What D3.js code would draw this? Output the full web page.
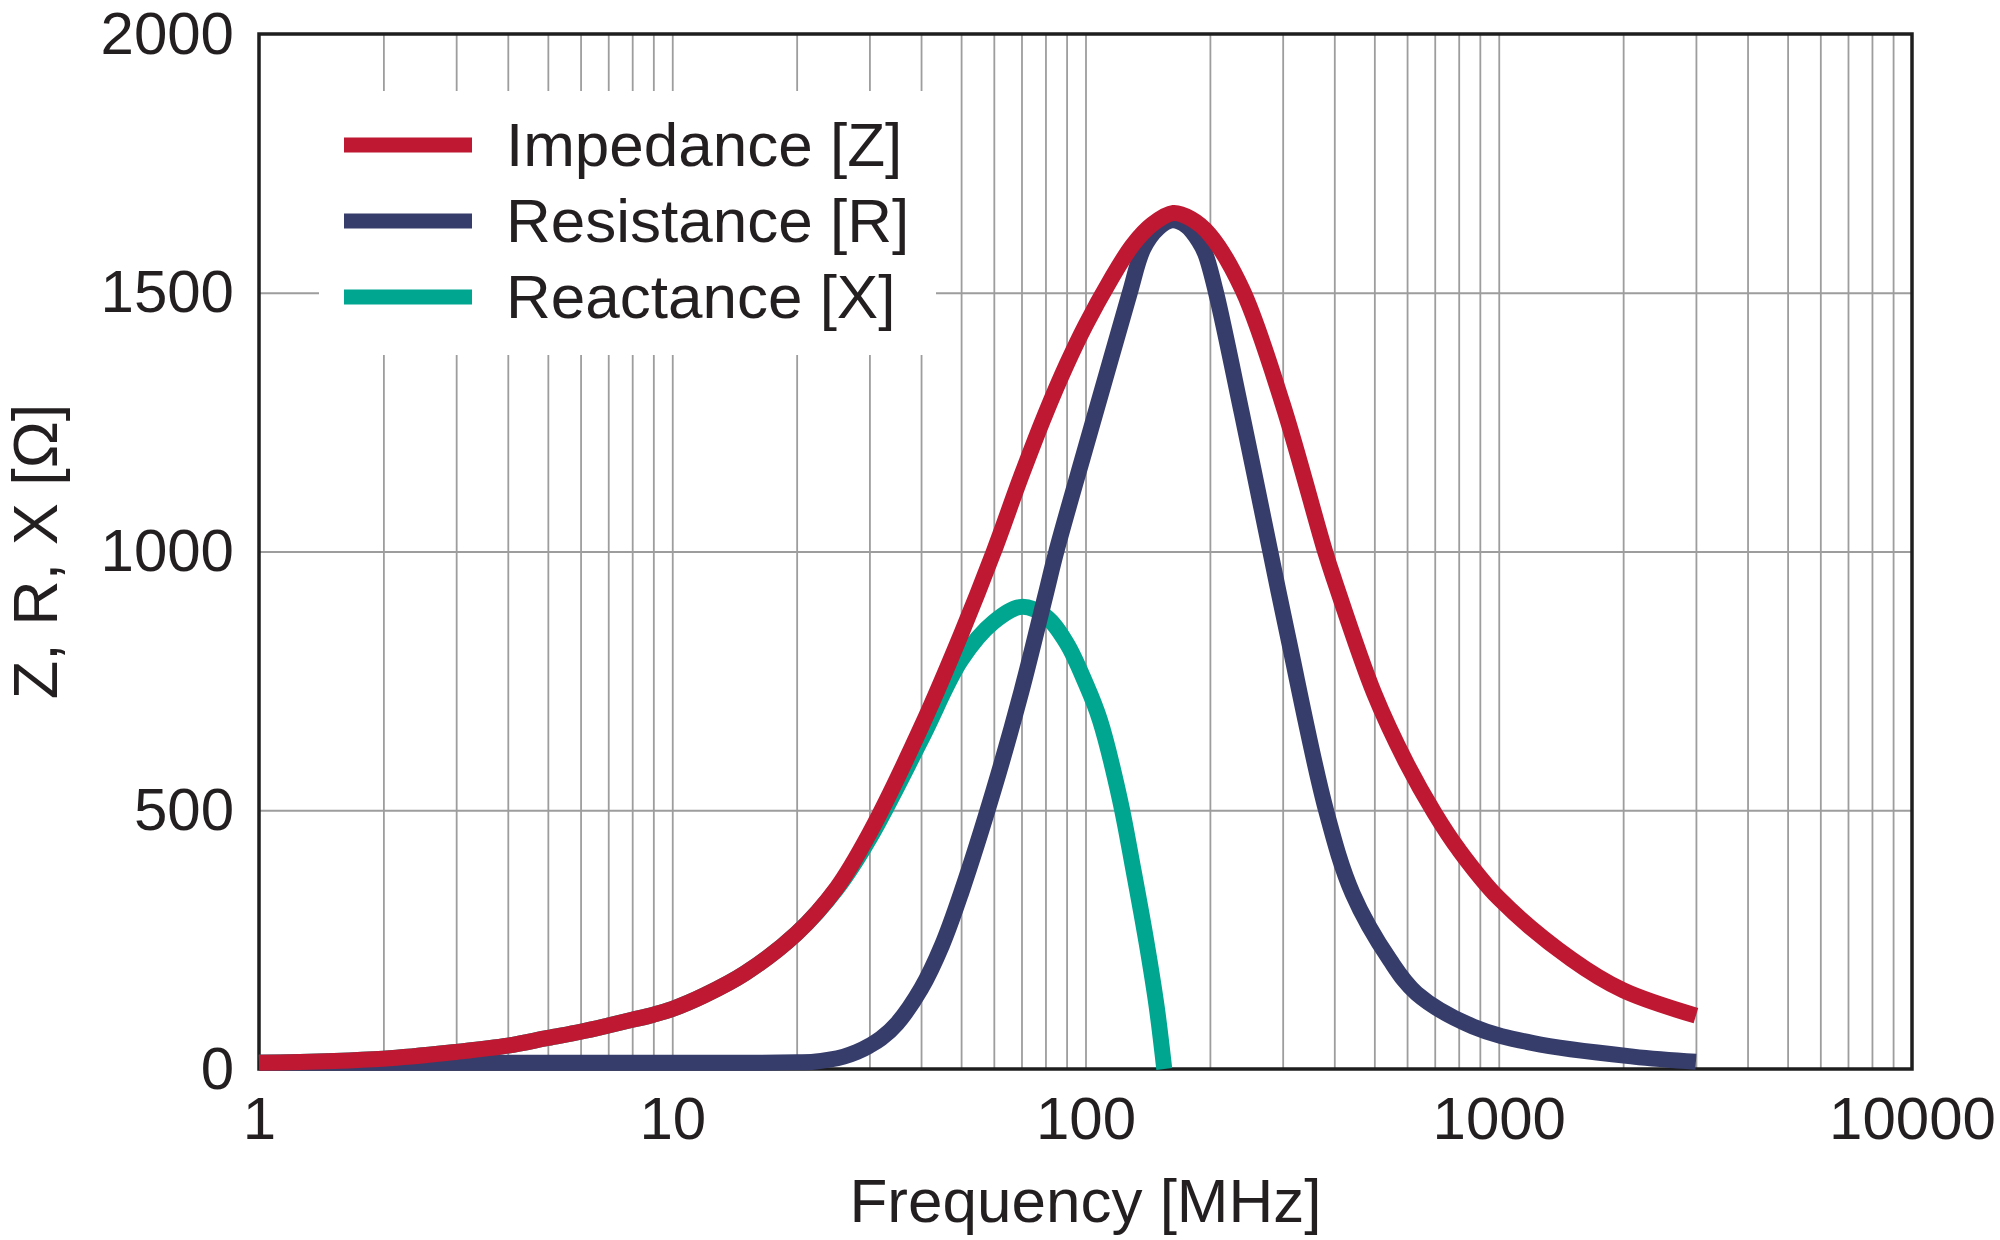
<!DOCTYPE html>
<html>
<head>
<meta charset="utf-8">
<script src="https://cdn.jsdelivr.net/npm/d3@7"></script>
<style>
  body { margin: 0; background: #fff; }
  svg text { font-family: "Liberation Sans", Arial, Helvetica, sans-serif; }
</style>
</head>
<body>
<div id="chart"></div>
<script>
// impedance |Z| [ohm] vs frequency [MHz]
var impFreq = [1, 2, 3, 4, 5, 6, 7, 8, 9, 10, 12, 15, 20, 25, 30, 40, 50, 60, 70, 80, 90, 100,
  115, 130, 145, 163, 180, 200, 240, 300, 380, 400, 500, 600, 700, 800, 1000, 1500, 2000, 3000];
var impVals = [12, 20, 33, 45, 60, 72, 84, 95, 105, 116, 143, 185, 262, 350, 455, 660, 840, 1000, 1147, 1266, 1361, 1437,
  1525, 1592, 1632, 1654, 1643, 1612, 1505, 1285, 1000, 945, 725, 589, 494, 424, 330, 212, 152, 103];

// resistance R
var resFreq = [1, 5, 10, 15, 20, 22, 24, 26, 28, 30, 32, 35, 40, 45, 50, 60, 70, 80, 85, 100, 115, 128, 138, 150, 162, 175,
  188, 195, 207, 239, 280, 310, 382, 443, 546, 633, 867, 1211, 2113, 3000];
var resVals = [12, 12, 12, 12, 13, 14, 18, 24, 33, 45, 59, 88, 155, 240, 340, 540, 730, 915, 1000, 1200, 1370, 1500, 1585, 1625, 1640, 1630,
  1600, 1575, 1500, 1267, 1000, 830, 500, 339, 210, 146, 82, 50, 24, 14];

// reactance X
var reaFreq = [1, 2, 3, 4, 5, 6, 7, 8, 9, 10, 12, 15, 20, 25, 30, 40, 50, 60, 70, 80, 90, 100,
  108.4, 121.2, 130.6, 140.6, 148.7, 155.1];
var reaVals = [12, 20, 33, 45, 60, 72, 84, 95, 105, 116, 143, 185, 262, 348, 445, 636, 790, 864, 893, 875, 823, 746,
  674, 520, 385, 243, 120, 0];

var seriesNames = ["Impedance [Z]", "Resistance [R]", "Reactance [X]"];
var seriesColors = ["#be1832", "#363d6b", "#00a690"];

var xLabels = [1, 10, 100, 1000, 10000];
var yLabels = [0, 500, 1000, 1500, 2000];
var yGrid = [500, 1000, 1500];

var _width = 2000, _height = 1240;
var plotLeft = 259, plotRight = 1912, plotTop = 34, plotBottom = 1069;
var tickFont = 60, titleFont = 62, textColor = "#231f20";

var svg = d3.select("#chart").append("svg")
  .attr("width", _width)
  .attr("height", _height);

var x = d3.scaleLog().domain([1, 10000]).range([plotLeft, plotRight]);
var y = d3.scaleLinear().domain([0, 2000]).range([plotBottom, plotTop]);

function zip(fs, vs) {
  return fs.map(function (f, i) { return [f, vs[i]]; });
}

// grid lines
var gridX = svg.append("g")
  .attr("transform", "translate(0," + plotBottom + ")")
  .call(d3.axisBottom(x)
    .tickValues(x.ticks().filter(function (d) { return d > 1 && d < 10000; }))
    .tickSize(-(plotBottom - plotTop))
    .tickFormat(""));
gridX.select(".domain").remove();
gridX.selectAll("line").attr("stroke", "#9d9d9d").attr("stroke-width", 1.8);

var gridY = svg.append("g")
  .attr("transform", "translate(" + plotLeft + ",0)")
  .call(d3.axisLeft(y)
    .tickValues(yGrid)
    .tickSize(-(plotRight - plotLeft))
    .tickFormat(""));
gridY.select(".domain").remove();
gridY.selectAll("line").attr("stroke", "#9d9d9d").attr("stroke-width", 1.8);

// legend background hides the grid
svg.append("rect")
  .attr("x", 319).attr("y", 91)
  .attr("width", 617).attr("height", 264)
  .attr("fill", "#fff");

// frame
svg.append("rect")
  .attr("x", plotLeft).attr("y", plotTop)
  .attr("width", plotRight - plotLeft).attr("height", plotBottom - plotTop)
  .attr("fill", "none")
  .attr("stroke", "#1e1e1e")
  .attr("stroke-width", 3.5);

// curves: X below, R, then Z on top
var line = d3.line()
  .x(function (d) { return x(d[0]); })
  .y(function (d) { return y(d[1]); })
  .curve(d3.curveCatmullRom.alpha(0.5));

var curves = [
  { data: zip(reaFreq, reaVals), color: seriesColors[2] },
  { data: zip(resFreq, resVals), color: seriesColors[1] },
  { data: zip(impFreq, impVals), color: seriesColors[0] }
];

svg.append("g").selectAll("path")
  .data(curves)
  .enter().append("path")
  .attr("d", function (d) { return line(d.data); })
  .attr("fill", "none")
  .attr("stroke", function (d) { return d.color; })
  .attr("stroke-width", 16)
  .attr("stroke-linecap", "butt")
  .attr("stroke-linejoin", "round");

// tick labels
var xAxis = svg.append("g")
  .attr("transform", "translate(0," + plotBottom + ")")
  .call(d3.axisBottom(x)
    .tickValues(xLabels)
    .tickFormat(d3.format("d"))
    .tickSize(0)
    .tickPadding(27));
xAxis.select(".domain").remove();
xAxis.selectAll("text")
  .attr("font-size", tickFont)
  .attr("font-family", "Liberation Sans, Arial, sans-serif")
  .attr("fill", textColor);

var yAxis = svg.append("g")
  .attr("transform", "translate(" + plotLeft + ",0)")
  .call(d3.axisLeft(y)
    .tickValues(yLabels)
    .tickFormat(d3.format("d"))
    .tickSize(0)
    .tickPadding(25));
yAxis.select(".domain").remove();
yAxis.selectAll("text")
  .attr("font-size", tickFont)
  .attr("font-family", "Liberation Sans, Arial, sans-serif")
  .attr("fill", textColor);

// axis titles
svg.append("text")
  .attr("x", (plotLeft + plotRight) / 2)
  .attr("y", 1222)
  .attr("text-anchor", "middle")
  .attr("font-size", titleFont)
  .attr("fill", textColor)
  .text("Frequency [MHz]");

svg.append("text")
  .attr("transform", "translate(57," + (plotTop + plotBottom) / 2 + ") rotate(-90)")
  .attr("text-anchor", "middle")
  .attr("font-size", titleFont + 1)
  .attr("fill", textColor)
  .text("Z, R, X [\u03a9]");

// legend
var legend = svg.append("g").selectAll("g")
  .data(seriesNames)
  .enter().append("g")
  .attr("transform", function (d, i) { return "translate(344," + (145 + i * 76) + ")"; });

legend.append("line")
  .attr("x1", 0).attr("x2", 128)
  .attr("y1", 0).attr("y2", 0)
  .attr("stroke", function (d, i) { return seriesColors[i]; })
  .attr("stroke-width", 15);

legend.append("text")
  .attr("x", 162)
  .attr("y", 21)
  .attr("font-size", titleFont)
  .attr("fill", textColor)
  .text(function (d) { return d; });
</script>
</body>
</html>
